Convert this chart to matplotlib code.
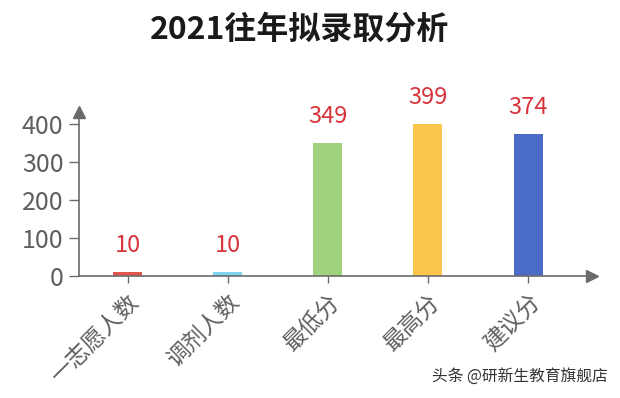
import matplotlib.pyplot as plt
import numpy as np

# ===== 数据 =====
categories = ['一志愿人数', '调剂人数', '最低分', '最高分', '建议分']
values = [10, 10, 349, 399, 374]
bar_colors = ['#e0564c', '#7fd3ee', '#9fd27c', '#fbc64b', '#4a6bc6']
yticks = [0, 100, 200, 300, 400]
title = '2021往年拟录取分析'
watermark = '头条 @研新生教育旗舰店'

plt.rcParams['font.family'] = ['Noto Sans CJK SC', 'DejaVu Sans']
AXIS_COLOR = '#6b6b6b'
TEXT_COLOR = '#5f5f5f'
VALUE_COLOR = '#d8343c'

fig = plt.figure(figsize=(6.2, 3.98), dpi=100, facecolor='white')
ax = fig.add_axes([0.127, 0.307, 0.828, 0.412])

x = np.arange(len(categories))
ax.bar(x, values, width=0.29, color=bar_colors, zorder=2)

for xi, v in zip(x, values):
    ax.annotate(f'{v}', xy=(xi, max(v, 0)), xytext=(0, 11), textcoords='offset points',
                ha='center', va='bottom', fontsize=17, color=VALUE_COLOR,
                fontweight='light')

ax.set_xlim(-0.49, 4.64)
ax.set_ylim(0, 432)
ax.set_yticks(yticks)
ax.set_xticks(x)
ax.set_xticklabels(categories, rotation=45, ha='right', va='top',
                   rotation_mode='anchor', fontsize=16.5, color=TEXT_COLOR,
                   fontweight='light')
ax.tick_params(axis='y', labelsize=18, labelcolor=TEXT_COLOR, color=AXIS_COLOR,
               length=7, width=1, pad=4)
for lbl in ax.get_yticklabels():
    lbl.set_fontweight('light')
ax.tick_params(axis='x', color=AXIS_COLOR, length=5, width=1, pad=5)

for s in ['top', 'right']:
    ax.spines[s].set_visible(False)
for s in ['left', 'bottom']:
    ax.spines[s].set_color(AXIS_COLOR)
    ax.spines[s].set_linewidth(1.2)

# 坐标轴箭头
ax.plot(1, 0, '>', transform=ax.transAxes, clip_on=False, color=AXIS_COLOR, markersize=9)
ax.plot(0, 1, '^', transform=ax.transAxes, clip_on=False, color=AXIS_COLOR, markersize=9)

fig.text(0.483, 0.925, title, ha='center', va='center', fontsize=23, fontweight='bold',
         color='#1a1a1a')
fig.text(0.98, 0.055, watermark, ha='right', va='center', fontsize=11.3, color='#333333')

plt.savefig('out.png', dpi=100, facecolor='white')
